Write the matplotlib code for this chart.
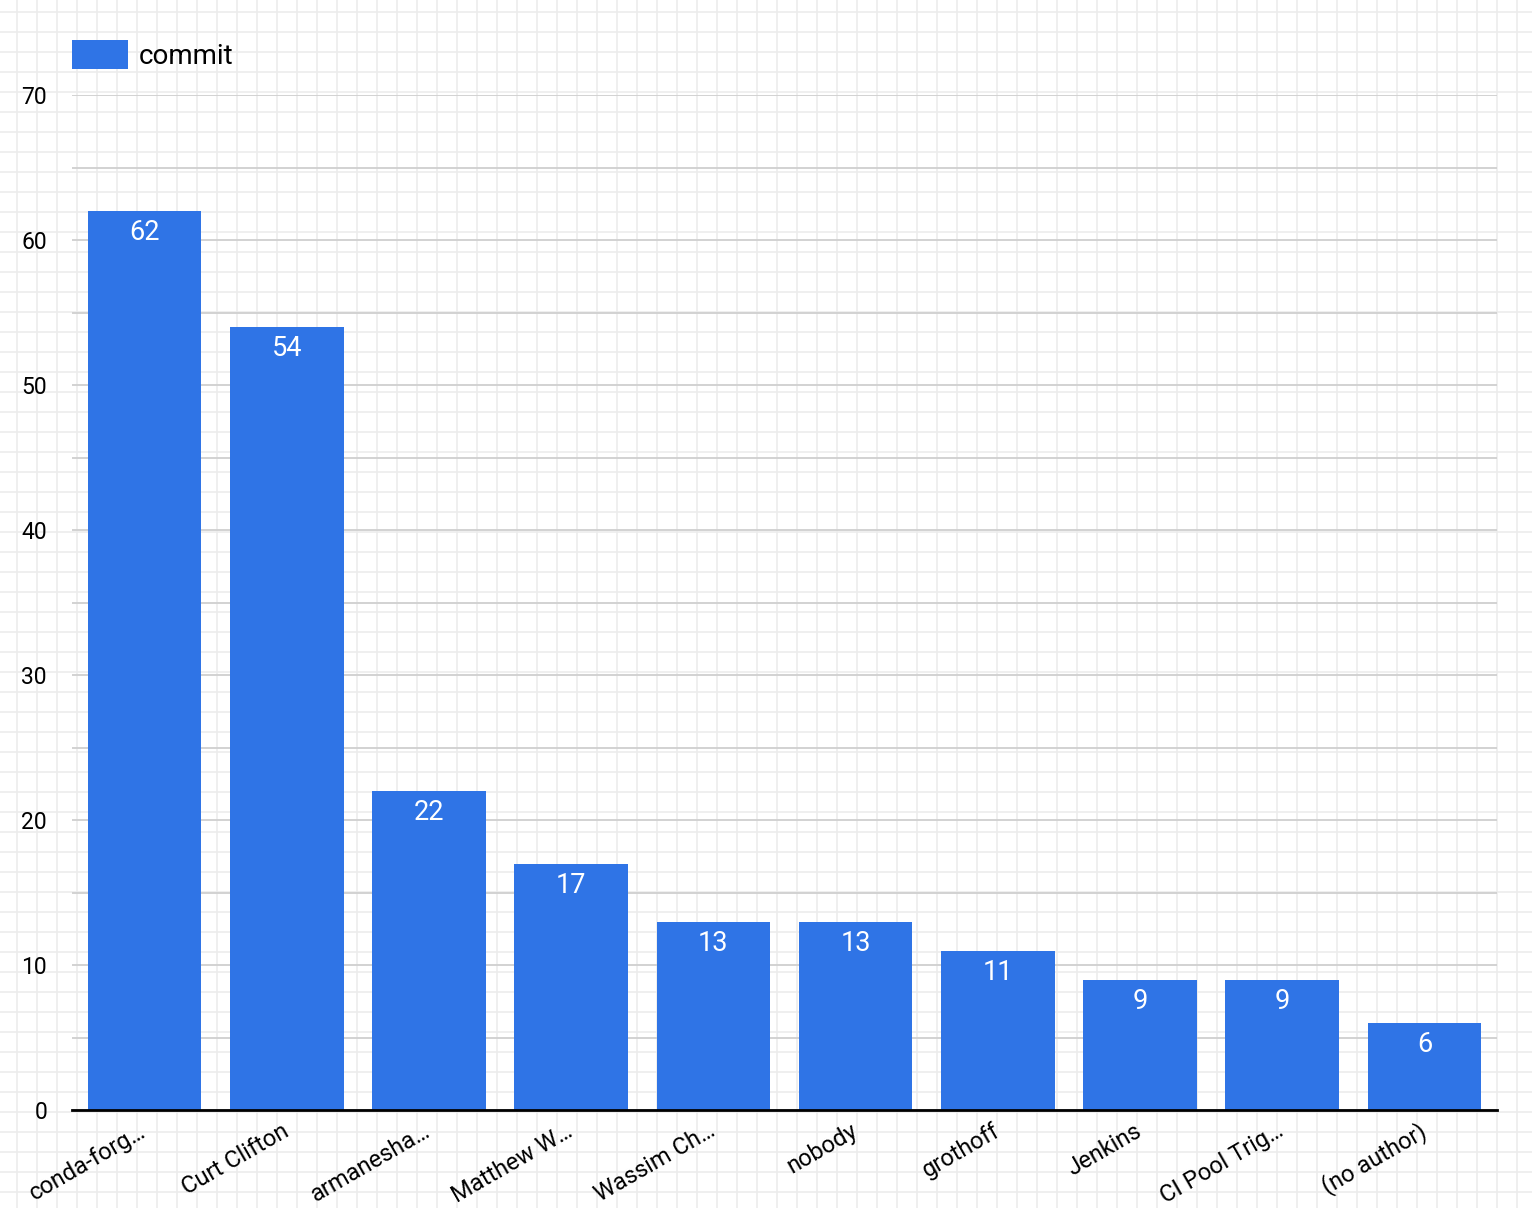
import numpy as np
from matplotlib import pyplot as plt

authors = ['conda-forg…', 'Curt Clifton', 'armanesha…', 'Matthew W…', 'Wassim Ch…',
           'nobody', 'grothoff', 'Jenkins', 'CI Pool Trig…', '(no author)']
commits = [62, 54, 22, 17, 13, 13, 11, 9, 9, 6]
yticks = [0, 10, 20, 30, 40, 50, 60, 70]

plt.rcParams['font.family'] = ['Roboto', 'DejaVu Sans']
BLUE = '#2f74e6'

W, H = 1532, 1208
fig = plt.figure(figsize=(W / 100, H / 100), dpi=100)

# faint paper grid behind everything
bg = fig.add_axes([0, 0, 1, 1], zorder=-1)
bg.set_xlim(0, W)
bg.set_ylim(H, 0)
for x in np.arange(17, W, 20):
    bg.axvline(x, color='#ececec', lw=1.2)
for y in np.arange(12, H, 20):
    bg.axhline(y, color='#ececec', lw=1.2)
bg.axis('off')

ax = fig.add_axes([72 / W, 1 - 1110 / H, (1497 - 72) / W, (1110 - 95) / H])
ax.patch.set_alpha(0)
x = np.arange(len(authors))
bars = ax.bar(x, commits, width=0.8, color=BLUE, zorder=3, label='commit')
for xi, v in zip(x, commits):
    ax.annotate(str(v), (xi, v), xytext=(0, -6), textcoords='offset points',
                ha='center', va='top', color='white', fontsize=19.5, zorder=4)

ax.set_xlim(-0.51, len(authors) - 0.49)
ax.set_ylim(0, 70)
ax.set_yticks(yticks)
ax.set_yticks(np.arange(5, 70, 10), minor=True)
ax.grid(axis='y', which='both', color='#cfcfcf', lw=1.3, zorder=1)
ax.tick_params(axis='y', which='both', length=0, labelsize=16.5, pad=18)
ax.set_xticks(x)
ax.set_xticklabels(authors, rotation=30, ha='right', va='center',
                   rotation_mode='anchor', fontsize=17)
ax.tick_params(axis='x', length=0, pad=14)
for s in ['top', 'right', 'left']:
    ax.spines[s].set_visible(False)
ax.spines['bottom'].set_linewidth(2)
ax.spines['bottom'].set_zorder(5)

fig.legend(loc='lower left', bbox_to_anchor=(47 / W, 1 - 95 / H), frameon=False,
           fontsize=20, handlelength=2.0, handleheight=1.25, handletextpad=0.4)

fig.savefig('out.png', dpi=100)
